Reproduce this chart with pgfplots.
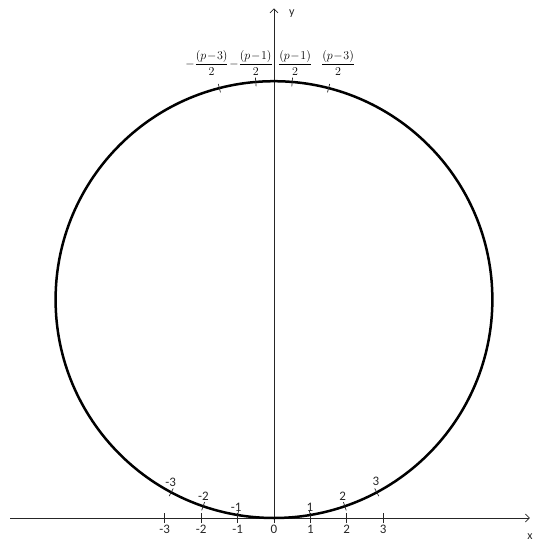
\documentclass[border=0pt]{standalone}
\usepackage{fontspec}
\setmainfont{Carlito}
\usepackage{pgfplots}
\pgfplotsset{compat=1.18}
\usetikzlibrary{arrows.meta}
\begin{document}
\begin{tikzpicture}
\begin{axis}[
  x=36.4pt, y=36.4pt,
  xmin=-7.25, xmax=7.03, ymin=0, ymax=14.0,
  enlargelimits=false,
  axis lines=middle,
  hide obscured x ticks=false,
  axis line style={black!85, line width=0.7pt, -{Straight Barb[length=4pt,width=8pt]}},
  xtick={-3,-2,-1,0,1,2,3},
  xticklabels={-3,-2,-1,0,1,2,3},
  ytick=\empty,
  major tick length=10pt,
  tick align=center,
  tick style={black!85, line width=0.7pt},
  xticklabel style={font=\fontsize{13}{15}\selectfont, text=black!85, inner sep=2pt},
  clip=false,
]
% invisible bounding box
\path (axis cs:-7.527,-0.879) rectangle (axis cs:7.5,14.231);
% circle
\draw[black, line width=2.5pt] (axis cs:0,6) circle[radius=6];
% ticks on circle (bottom, stereographic points)
\addplot[black!85, line width=0.7pt] coordinates {(0.973,0.201) (1.013,-0.035)};
\addplot[black!85, line width=0.7pt] coordinates {(1.907,0.4375) (1.985,0.2105)};
\addplot[black!85, line width=0.7pt] coordinates {(2.7675,0.8119) (2.8805,0.6001)};
\addplot[black!85, line width=0.7pt] coordinates {(-0.973,0.201) (-1.013,-0.035)};
\addplot[black!85, line width=0.7pt] coordinates {(-1.907,0.4375) (-1.985,0.2105)};
\addplot[black!85, line width=0.7pt] coordinates {(-2.7675,0.8119) (-2.8805,0.6001)};
% ticks on circle (top)
\addplot[black!85, line width=0.7pt] coordinates {(0.49,11.859) (0.51,12.099)};
\addplot[black!85, line width=0.7pt] coordinates {(-0.49,11.859) (-0.51,12.099)};
\addplot[black!85, line width=0.7pt] coordinates {(1.47,11.693) (1.53,11.925)};
\addplot[black!85, line width=0.7pt] coordinates {(-1.47,11.693) (-1.53,11.925)};
% labels on circle bottom
\node[font=\fontsize{13}{15}\selectfont, text=black!85] at (axis cs:-2.84,0.98) {-3};
\node[font=\fontsize{13}{15}\selectfont, text=black!85] at (axis cs:-1.94,0.61) {-2};
\node[font=\fontsize{13}{15}\selectfont, text=black!85] at (axis cs:-1.04,0.28) {-1};
\node[font=\fontsize{13}{15}\selectfont, text=black!85] at (axis cs:0.99,0.28) {1};
\node[font=\fontsize{13}{15}\selectfont, text=black!85] at (axis cs:1.89,0.59) {2};
\node[font=\fontsize{13}{15}\selectfont, text=black!85] at (axis cs:2.80,1.0) {3};
% labels at top
\node[font=\fontsize{12}{14}\selectfont, inner sep=0pt] at (axis cs:-1.84,12.5) {$-{\displaystyle\frac{(p\!-\!3)}{2}}$};
\node[font=\fontsize{12}{14}\selectfont, inner sep=0pt] at (axis cs:-0.63,12.5) {$-{\displaystyle\frac{(p\!-\!1)}{2}}$};
\node[font=\fontsize{12}{14}\selectfont, inner sep=0pt] at (axis cs:0.58,12.5) {${\displaystyle\frac{(p\!-\!1)}{2}}$};
\node[font=\fontsize{12}{14}\selectfont, inner sep=0pt] at (axis cs:1.76,12.5) {${\displaystyle\frac{(p\!-\!3)}{2}}$};
% axis letters
\node[font=\fontsize{12}{14}\selectfont, text=black!85] at (axis cs:7.03,-0.52) {x};
\node[font=\fontsize{12}{14}\selectfont, text=black!85] at (axis cs:0.49,13.85) {y};
\end{axis}
\end{tikzpicture}
\end{document}
